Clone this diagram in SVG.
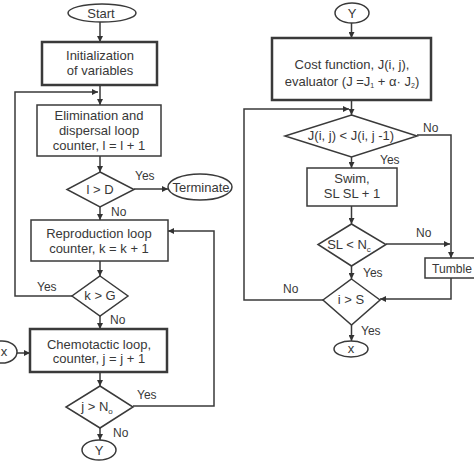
<svg xmlns="http://www.w3.org/2000/svg" width="474" height="474" viewBox="0 0 474 474">
<style>
.t{font-family:"Liberation Sans",Arial,sans-serif;font-size:13px;fill:#383838;text-anchor:middle}
.l{font-family:"Liberation Sans",Arial,sans-serif;font-size:12px;fill:#383838}
.b{fill:#fff;stroke:#3a3a3a;stroke-width:1.5}
.bt{fill:#fff;stroke:#3a3a3a;stroke-width:2.5}
.c{fill:none;stroke:#3a3a3a;stroke-width:1.5}
.a{fill:none;stroke:#3a3a3a;stroke-width:1.5;marker-end:url(#ah)}
</style>
<defs>
<marker id="ah" viewBox="0 0 10 10" refX="10" refY="5" markerWidth="6" markerHeight="6" markerUnits="userSpaceOnUse" orient="auto">
<path d="M0,0 L10,5 L0,10 z" fill="#333"/>
</marker>
</defs>
<rect width="474" height="474" fill="#fff"/>
<g id="connectors">
<line class="a" x1="100" y1="22" x2="100" y2="42"/>
<line class="a" x1="100" y1="85" x2="100" y2="105"/>
<polyline class="a" points="72,296 15,296 15,92 98,92"/>
<line class="a" x1="100" y1="156" x2="100" y2="172"/>
<line class="a" x1="134" y1="189" x2="168" y2="189"/>
<line class="a" x1="100" y1="207" x2="100" y2="220"/>
<line class="a" x1="100" y1="261" x2="100" y2="276"/>
<line class="a" x1="100" y1="316" x2="100" y2="329"/>
<line class="a" x1="17" y1="353" x2="30" y2="353"/>
<line class="a" x1="100" y1="372" x2="100" y2="386"/>
<polyline class="a" points="133,406 214,406 214,231 168,231"/>
<line class="a" x1="100" y1="428" x2="100" y2="440"/>
<line class="a" x1="351.5" y1="22" x2="351.5" y2="38"/>
<line class="a" x1="351.5" y1="100" x2="351.5" y2="115"/>
<polyline class="a" points="323,300 244,300 244,109 349,109"/>
<polyline class="a" points="417,135 451,135 451,258"/>
<line class="a" x1="351.5" y1="157" x2="351.5" y2="168"/>
<line class="a" x1="351.5" y1="206" x2="351.5" y2="224"/>
<line class="a" x1="386" y1="244" x2="450" y2="244"/>
<line class="a" x1="351.5" y1="266" x2="351.5" y2="279"/>
<polyline class="a" points="451,278 451,299 380,299"/>
<line class="a" x1="351.5" y1="325" x2="351.5" y2="341"/>
</g>
<g class="l">
<text x="135" y="180">Yes</text>
<text x="111" y="216">No</text>
<text x="37" y="291">Yes</text>
<text x="110" y="324">No</text>
<text x="137" y="399">Yes</text>
<text x="113" y="437">No</text>
<text x="423" y="132">No</text>
<text x="380" y="164">Yes</text>
<text x="416" y="237">No</text>
<text x="363" y="277">Yes</text>
<text x="283" y="293">No</text>
<text x="361" y="335">Yes</text>
</g>
<g id="start"><ellipse class="b" cx="102" cy="13" rx="34" ry="9"/><text class="t" x="101" y="17.5">Start</text></g>
<g id="init"><rect class="bt" x="42" y="42" width="115" height="43"/><text class="t" x="100" y="60">Initialization</text><text class="t" x="100" y="75">of variables</text></g>
<g id="elim"><rect class="b" x="37" y="105" width="124" height="51"/><text class="t" x="99" y="120">Elimination and</text><text class="t" x="99" y="135">dispersal  loop</text><text class="t" x="99" y="150">counter, l = l + 1</text></g>
<g id="d1"><polygon class="b" points="100,172 134,189.5 100,207 67,189.5"/><text class="t" x="100" y="194">l &gt; D</text></g>
<g id="term"><ellipse class="b" cx="200" cy="187" rx="32" ry="13"/><text class="t" x="201" y="191.5">Terminate</text></g>
<g id="repro"><rect class="b" x="31" y="220" width="137" height="41"/><text class="t" x="99" y="238">Reproduction loop</text><text class="t" x="99" y="253">counter, k = k + 1</text></g>
<g id="d2"><polygon class="b" points="100,276 128,296 100,316 72,296"/><text class="t" x="100" y="300">k &gt; G</text></g>
<g id="chemo"><rect class="bt" x="30" y="329" width="137" height="43"/><text class="t" x="99" y="349">Chemotactic loop,</text><text class="t" x="99" y="363">counter, j = j + 1</text></g>
<g id="xl"><ellipse class="b" cx="2" cy="352" rx="15" ry="11"/><text class="t" x="4" y="356">x</text></g>
<g id="d3"><polygon class="b" points="100,386 133,407 100,428 66,407"/><text class="t" x="97" y="411">j &gt; N<tspan font-size="8" dy="3">o</tspan></text></g>
<g id="yl"><ellipse class="b" cx="99" cy="450" rx="17" ry="10"/><text class="t" x="99" y="454.5">Y</text></g>
<g id="yr"><ellipse class="b" cx="352" cy="13" rx="17" ry="10"/><text class="t" x="352" y="17.5">Y</text></g>
<g id="cost"><rect class="bt" x="272" y="38" width="159" height="62"/><text class="t" x="352" y="69">Cost function, J(i, j),</text><text class="t" x="352" y="86">evaluator (J =J<tspan font-size="7" dy="2">1</tspan><tspan dy="-2"> + α· J</tspan><tspan font-size="7" dy="2">2</tspan><tspan dy="-2">)</tspan></text></g>
<g id="d4"><polygon class="b" points="351.5,115 417,136 351.5,157 285,136"/><text class="t" x="351" y="140">J(i, j) &lt; J(i, j -1)</text></g>
<g id="swim"><rect class="b" x="307" y="168" width="90" height="38"/><text class="t" x="352" y="183">Swim,</text><text class="t" x="352" y="198">SL SL + 1</text></g>
<g id="d5"><polygon class="b" points="351.5,224 386,244.5 351.5,266 318,244.5"/><text class="t" x="349" y="249">SL &lt; N<tspan font-size="8" dy="3">c</tspan></text></g>
<g id="tumble"><rect class="b" x="425" y="258" width="60" height="20"/><text class="t" style="text-anchor:start;font-size:12px" x="432" y="272.5" textLength="40" lengthAdjust="spacingAndGlyphs">Tumble</text></g>
<g id="d6"><polygon class="b" points="351.5,279 380,300 351.5,325 323,300"/><text class="t" x="351" y="304">i &gt; S</text></g>
<g id="xr"><ellipse class="b" cx="351" cy="349" rx="17" ry="8"/><text class="t" x="351" y="353">x</text></g>
</svg>
